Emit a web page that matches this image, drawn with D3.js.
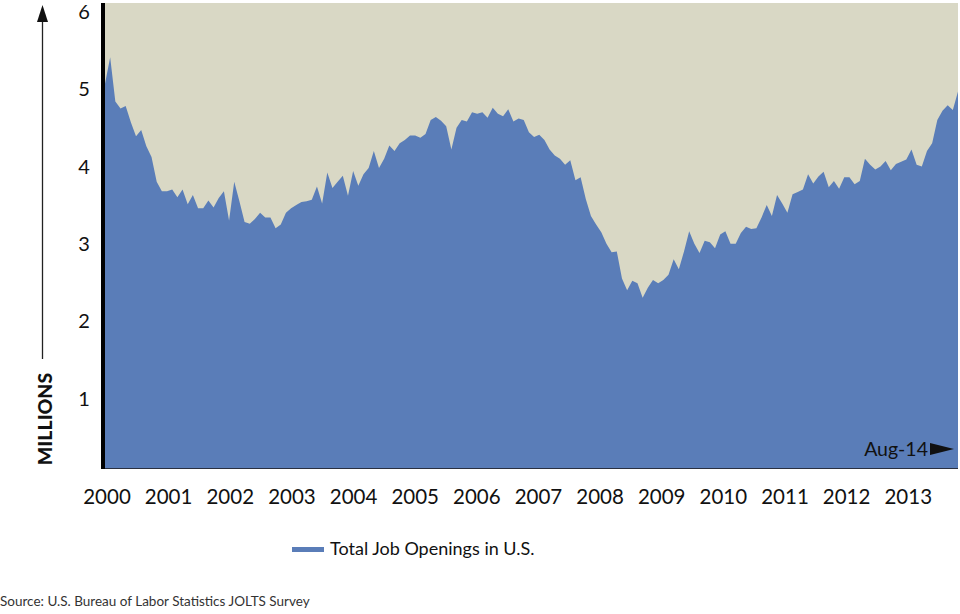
<!DOCTYPE html>
<html>
<head>
<meta charset="utf-8">
<script src="https://cdn.jsdelivr.net/npm/d3@7"></script>
<style>
  body { margin: 0; background: #fff; }
  svg text { font-family: Lato, "Noto Sans", sans-serif; fill: #111; }
</style>
</head>
<body>
<div id="chart"></div>
<script>
// monthly job openings in millions, Dec 2000 .. Aug 2014
const openings = [
  4.97, 5.31, 4.74, 4.65, 4.68, 4.47, 4.29, 4.37, 4.16, 4.02,
  3.70, 3.58, 3.58, 3.60, 3.50, 3.60, 3.41, 3.53, 3.36, 3.36,
  3.46, 3.37, 3.49, 3.58, 3.20, 3.70, 3.45, 3.18, 3.16, 3.22,
  3.30, 3.24, 3.24, 3.10, 3.15, 3.30, 3.36, 3.40, 3.44, 3.45,
  3.47, 3.64, 3.42, 3.82, 3.62, 3.70, 3.78, 3.52, 3.84, 3.65,
  3.80, 3.88, 4.10, 3.88, 4.00, 4.17, 4.10, 4.20, 4.24, 4.30,
  4.30, 4.27, 4.32, 4.50, 4.54, 4.49, 4.42, 4.12, 4.40, 4.50,
  4.48, 4.60, 4.58, 4.60, 4.53, 4.66, 4.58, 4.55, 4.64, 4.48,
  4.52, 4.50, 4.34, 4.28, 4.31, 4.24, 4.12, 4.04, 4.00, 3.92,
  3.98, 3.72, 3.76, 3.48, 3.26, 3.15, 3.05, 2.90, 2.79, 2.80,
  2.45, 2.30, 2.42, 2.39, 2.20, 2.33, 2.43, 2.39, 2.43, 2.50,
  2.70, 2.57, 2.80, 3.06, 2.90, 2.78, 2.94, 2.92, 2.84, 3.02,
  3.06, 2.90, 2.90, 3.04, 3.12, 3.09, 3.10, 3.24, 3.40, 3.26,
  3.53, 3.42, 3.30, 3.54, 3.57, 3.60, 3.80, 3.68, 3.77, 3.83,
  3.63, 3.71, 3.61, 3.76, 3.76, 3.67, 3.71, 4.00, 3.92, 3.86,
  3.90, 3.97, 3.85, 3.93, 3.96, 3.99, 4.12, 3.92, 3.90, 4.10,
  4.20, 4.50, 4.62, 4.69, 4.63, 4.87
];
const yearLabels = ["2000","2001","2002","2003","2004","2005","2006","2007",
                    "2008","2009","2010","2011","2012","2013"];
const yTicks = [1, 2, 3, 4, 5, 6];
const seriesName = "Total Job Openings in U.S.";
const endLabel = "Aug-14";

const width = 960, height = 614;
const plot = {left: 101, right: 958, top: 3, bottom: 468};

const svg = d3.select("#chart").append("svg")
    .attr("width", width)
    .attr("height", height);

const x = d3.scaleLinear().domain([0, openings.length - 1]).range([105, plot.right]);
const y = d3.scaleLinear().domain([0, 6]).range([plot.bottom, plot.top + 1]);

// background panel
svg.append("rect")
    .attr("x", plot.left).attr("y", plot.top)
    .attr("width", plot.right - plot.left)
    .attr("height", plot.bottom - plot.top)
    .style("fill", "#d9d8c5");

const area = d3.area()
    .x((d, i) => x(i))
    .y0(y(0))
    .y1(d => y(d));

svg.append("path")
    .datum(openings)
    .attr("d", area)
    .style("fill", "#5a7db8");

// bottom line and heavy left axis
svg.append("line")
    .attr("x1", plot.left).attr("x2", plot.right)
    .attr("y1", plot.bottom + 0.5).attr("y2", plot.bottom + 0.5)
    .style("stroke", "#2a3040").style("stroke-width", 1);
svg.append("rect")
    .attr("x", plot.left).attr("y", plot.top)
    .attr("width", 4).attr("height", plot.bottom - plot.top + 1)
    .style("fill", "#000");

// y tick labels
svg.selectAll(".ylab").data(yTicks).enter().append("text")
    .attr("class", "ylab")
    .attr("x", 84)
    .attr("y", d => y(d) + 8)
    .attr("dy", "0.35em")
    .attr("text-anchor", "middle")
    .style("font-size", "20px")
    .text(d => d);

// year labels
svg.selectAll(".xlab").data(yearLabels).enter().append("text")
    .attr("class", "xlab")
    .attr("x", (d, i) => x(i * 12) + 2 - i * 0.4)
    .attr("y", 497)
    .attr("dy", "0.35em")
    .attr("text-anchor", "middle")
    .style("font-size", "20.5px")
    .text(d => d);

// MILLIONS axis title with arrow
svg.append("text")
    .attr("transform", "translate(45,419) rotate(-90)")
    .attr("dy", "0.35em")
    .attr("text-anchor", "middle")
    .style("font-size", "19.5px")
    .style("font-weight", "900")
    .text("MILLIONS");
svg.append("line")
    .attr("x1", 42.5).attr("x2", 42.5)
    .attr("y1", 359).attr("y2", 18)
    .style("stroke", "#222").style("stroke-width", 1.3);
svg.append("path")
    .attr("d", "M42.5,5 L37,22 L48,22 Z")
    .style("fill", "#111");

// end marker
svg.append("text")
    .attr("x", 928)
    .attr("y", 449)
    .attr("dy", "0.35em")
    .attr("text-anchor", "end")
    .style("font-size", "19.5px")
    .text(endLabel);
svg.append("path")
    .attr("d", "M930,443 L954,449 L930,455 Z")
    .style("fill", "#111");

// legend
svg.append("rect")
    .attr("x", 292).attr("y", 547)
    .attr("width", 32).attr("height", 5)
    .style("fill", "#5a7db8");
svg.append("text")
    .attr("x", 330)
    .attr("y", 549)
    .attr("dy", "0.35em")
    .style("font-size", "18px")
    .text(seriesName);

// source note
svg.append("text")
    .attr("x", 0)
    .attr("y", 601)
    .attr("dy", "0.35em")
    .style("font-size", "13.5px")
    .style("fill", "#333")
    .text("Source: U.S. Bureau of Labor Statistics JOLTS Survey");
</script>
</body>
</html>
